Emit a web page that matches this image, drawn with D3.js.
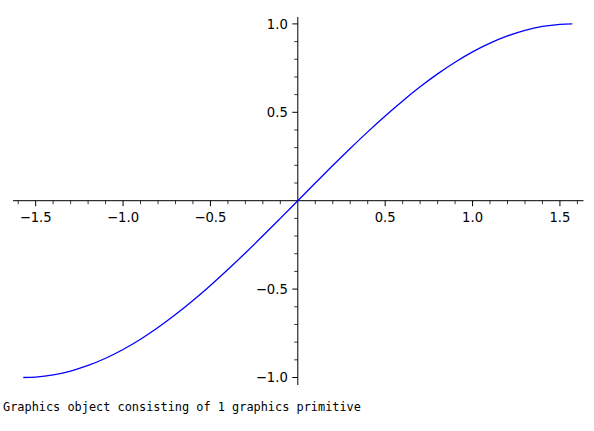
<!DOCTYPE html>
<html>
<head>
<meta charset="utf-8">
<script src="https://cdn.jsdelivr.net/npm/d3@7"></script>
<style>
  html, body { margin: 0; padding: 0; background: #fff; }
  svg { display: block; }
</style>
</head>
<body>
<svg id="chart" width="594" height="431"></svg>
<script>
// Values (curve through the origin, flattening at ±1)
const xValues = [-1.5708, -1.5, -1.4, -1.3, -1.2, -1.1, -1.0, -0.9, -0.8, -0.7, -0.6, -0.5, -0.4, -0.3, -0.2, -0.1, 0.0,
                 0.1, 0.2, 0.3, 0.4, 0.5, 0.6, 0.7, 0.8, 0.9, 1.0, 1.1, 1.2, 1.3, 1.4, 1.5, 1.5708];
const yValues = [-1.0, -0.9975, -0.9854, -0.9636, -0.9320, -0.8912, -0.8415, -0.7833, -0.7174, -0.6442, -0.5646, -0.4794, -0.3894, -0.2955, -0.1987, -0.0998, 0.0,
                 0.0998, 0.1987, 0.2955, 0.3894, 0.4794, 0.5646, 0.6442, 0.7174, 0.7833, 0.8415, 0.8912, 0.9320, 0.9636, 0.9854, 0.9975, 1.0];
const xMajorTicks = [-1.5, -1.0, -0.5, 0.5, 1.0, 1.5];
const yMajorTicks = [-1.0, -0.5, 0.5, 1.0];
const xMinorTicks = [-1.6, -1.4, -1.3, -1.2, -1.1, -0.9, -0.8, -0.7, -0.6, -0.4, -0.3, -0.2, -0.1, 0.1, 0.2, 0.3, 0.4, 0.6, 0.7, 0.8, 0.9, 1.1, 1.2, 1.3, 1.4, 1.6];
const yMinorTicks = [-0.9, -0.8, -0.7, -0.6, -0.4, -0.3, -0.2, -0.1, 0.1, 0.2, 0.3, 0.4, 0.6, 0.7, 0.8, 0.9];
const caption = "Graphics object consisting of 1 graphics primitive";

const svg = d3.select("#chart");
const x = d3.scaleLinear().domain([-1.5708, 1.5708]).range([23.3, 572.3]);
const y = d3.scaleLinear().domain([-1, 1]).range([377.5, 23.9]);

const x0 = x(0), y0 = y(0);
const fmt = v => d3.format(".1f")(v);

// x axis
const xAxisG = svg.append("g").attr("transform", `translate(0,${y0})`);
xAxisG.append("line").attr("x1", 13).attr("x2", 583.5).attr("y1", 0).attr("y2", 0)
  .attr("stroke", "#000").attr("stroke-width", 1);
xAxisG.selectAll("line.minor").data(xMinorTicks).enter().append("line")
  .attr("class", "minor")
  .attr("x1", d => x(d)).attr("x2", d => x(d)).attr("y1", 0).attr("y2", 3.5)
  .attr("stroke", "#000").attr("stroke-width", 0.8);
xAxisG.selectAll("line.major").data(xMajorTicks).enter().append("line")
  .attr("class", "major")
  .attr("x1", d => x(d)).attr("x2", d => x(d)).attr("y1", 0).attr("y2", 5.5)
  .attr("stroke", "#000").attr("stroke-width", 1);
xAxisG.selectAll("text").data(xMajorTicks).enter().append("text")
  .attr("x", d => x(d)).attr("y", 21.3)
  .attr("text-anchor", "middle")
  .attr("font-family", "DejaVu Sans")
  .attr("font-size", "13.2px")
  .attr("fill", "#000")
  .text(fmt);

// y axis
const yAxisG = svg.append("g").attr("transform", `translate(${x0},0)`);
yAxisG.append("line").attr("x1", 0).attr("x2", 0).attr("y1", 17).attr("y2", 385)
  .attr("stroke", "#000").attr("stroke-width", 1);
yAxisG.selectAll("line.minor").data(yMinorTicks).enter().append("line")
  .attr("class", "minor")
  .attr("x1", 0).attr("x2", -3.5).attr("y1", d => y(d)).attr("y2", d => y(d))
  .attr("stroke", "#000").attr("stroke-width", 0.8);
yAxisG.selectAll("line.major").data(yMajorTicks).enter().append("line")
  .attr("class", "major")
  .attr("x1", 0).attr("x2", -5.5).attr("y1", d => y(d)).attr("y2", d => y(d))
  .attr("stroke", "#000").attr("stroke-width", 1);
yAxisG.selectAll("text").data(yMajorTicks).enter().append("text")
  .attr("x", -10).attr("y", d => y(d))
  .attr("dy", "0.36em")
  .attr("text-anchor", "end")
  .attr("font-family", "DejaVu Sans")
  .attr("font-size", "13.2px")
  .attr("fill", "#000")
  .text(fmt);

// curve
const pts = xValues.map((v, i) => [v, yValues[i]]);
svg.append("path")
  .datum(pts)
  .attr("d", d3.line().x(d => x(d[0])).y(d => y(d[1])).curve(d3.curveCatmullRom))
  .attr("fill", "none")
  .attr("stroke", "#0000ff")
  .attr("stroke-width", 1.3);

// caption
svg.append("text")
  .attr("x", 3).attr("y", 411)
  .attr("font-family", "DejaVu Sans Mono")
  .attr("font-size", "11.9px")
  .attr("fill", "#000")
  .text(caption);
</script>
</body>
</html>
